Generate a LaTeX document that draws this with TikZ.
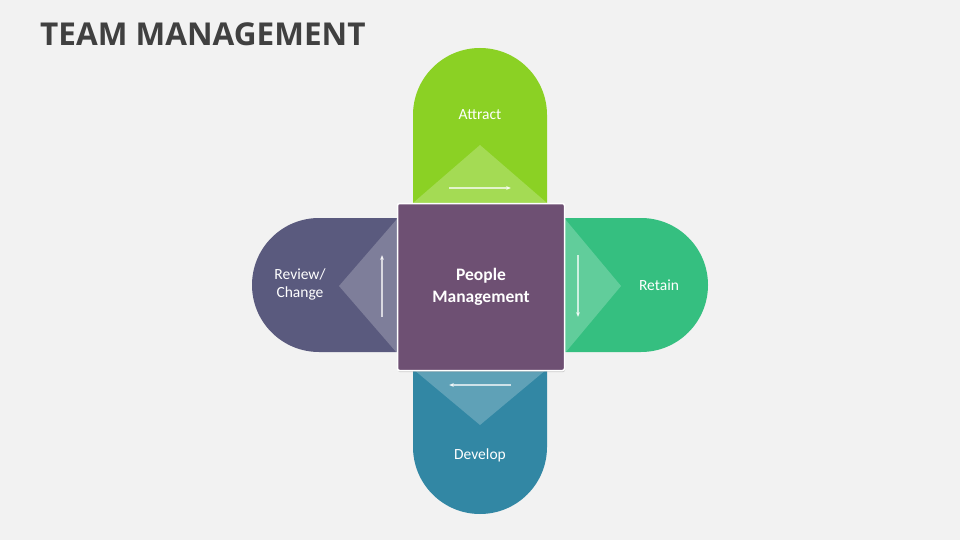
\documentclass[tikz,border=0pt]{standalone}
\usepackage{fontspec}
\setmainfont{Carlito}
\newfontfamily\titlefont{Open Sans}
\usetikzlibrary{arrows.meta,shadows}
\definecolor{bg}{HTML}{F2F2F2}
\definecolor{cA}{HTML}{8BD124}
\definecolor{cR}{HTML}{35BF80}
\definecolor{cD}{HTML}{3287A4}
\definecolor{cV}{HTML}{5A5A7E}
\definecolor{cC}{HTML}{6E5073}
\definecolor{ttl}{HTML}{404040}
\tikzset{
  tri/.style={fill=white,fill opacity=0.22,draw=none},
  flow/.style={draw=white,draw opacity=0.7,line width=1.4pt,-{Stealth[length=5pt,width=4pt]}},
  lbl/.style={text=white,font=\fontsize{15.5}{18}\selectfont,align=center},
}
\begin{document}
\begin{tikzpicture}[x=1pt,y=-1pt]
\fill[bg] (0,0) rectangle (960,540);
\useasboundingbox (0,0) rectangle (960,540);
\node[anchor=west,text=ttl,font=\titlefont\bfseries\fontsize{31.5}{34}\selectfont,inner sep=0] (title) at (40,34) {TEAM MANAGEMENT};
% petals
\fill[cA] (413,286) -- (413,115) arc[start angle=180,end angle=360,radius=67] -- (547,286) -- cycle;
\fill[cR] (481,218) -- (641,218) arc[start angle=-90,end angle=90,radius=67] -- (481,352) -- cycle;
\fill[cD] (413,286) -- (413,447) arc[start angle=180,end angle=0,radius=67] -- (547,286) -- cycle;
\fill[cV] (481,218) -- (319,218) arc[start angle=270,end angle=90,radius=67] -- (481,352) -- cycle;
% light triangles
\fill[tri] (413,203) -- (480,145) -- (547,203) -- cycle;
\fill[tri] (565,219) -- (621,286) -- (565,353) -- cycle;
\fill[tri] (413,369) -- (480,425) -- (547,369) -- cycle;
\fill[tri] (397,219) -- (339,286) -- (397,353) -- cycle;
% arrows
\coordinate (a1) at (449,188); \coordinate (a2) at (511,188);
\coordinate (r1) at (578,255); \coordinate (r2) at (578,317);
\coordinate (d1) at (511,385); \coordinate (d2) at (449,385);
\coordinate (v1) at (382,317); \coordinate (v2) at (382,255);
\draw[flow] (a1) -- (a2);
\draw[flow] (r1) -- (r2);
\draw[flow] (d1) -- (d2);
\draw[flow] (v1) -- (v2);
% center
\node[draw=white,line width=1.5pt,fill=cC,minimum width=167pt,minimum height=167pt,rounded corners=2pt,
  drop shadow={shadow xshift=0.5pt,shadow yshift=-1.5pt,opacity=0.35},
  text=white,font=\bfseries\fontsize{17.5}{21.5}\selectfont,align=center] (center) at (481,287) {People\\Management};
% labels
\node[lbl] (attract) at (480,115) {Attract};
\node[lbl] (retain) at (659,285) {Retain};
\node[lbl] (develop) at (480,455) {Develop};
\node[lbl] (review) at (300,284) {Review/\\Change};
\end{tikzpicture}
\end{document}
